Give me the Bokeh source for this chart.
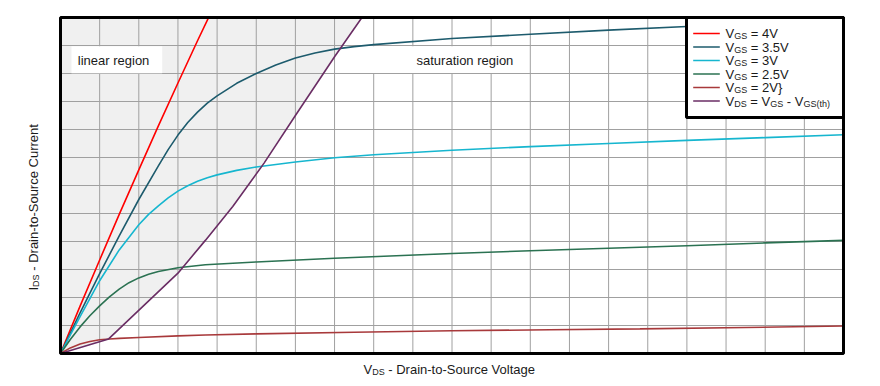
import math
from bokeh.plotting import figure
from bokeh.models import Range1d, Label
from bokeh.embed import file_html
from bokeh.resources import INLINE

# ---------------- data (grid units) ----------------
x_grid_ticks = list(range(0, 21))
y_grid_ticks = list(range(0, 13))

vds_4v = [0, 0.5, 1.0, 1.5, 2.0, 2.5, 3.0, 3.5, 3.8]
ids_4v = [0, 1.69, 3.34, 4.97, 6.56, 8.13, 9.66, 11.17, 12.05]

vds_35v = [0, 0.5, 1, 1.5, 2, 2.5, 2.75, 3, 3.25, 3.5, 3.75, 4, 4.5, 5, 5.5, 6, 6.5, 7, 7.5,
           8, 10, 12, 14, 16, 18, 20]
ids_35v = [0, 1.45, 2.85, 4.2, 5.5, 6.7, 7.28, 7.8, 8.25, 8.62, 8.94, 9.2, 9.65, 10.0, 10.3,
           10.55, 10.73, 10.87, 10.96, 11.03, 11.25, 11.4, 11.55, 11.68, 11.8, 11.92]

vds_3v = [0, 0.5, 1, 1.5, 2, 2.25, 2.5, 2.75, 3, 3.25, 3.5, 3.75, 4, 4.5, 5, 6, 7, 8, 10,
          12, 14, 16, 18, 20]
ids_3v = [0, 1.32, 2.6, 3.7, 4.6, 4.97, 5.27, 5.56, 5.8, 5.99, 6.15, 6.28, 6.38, 6.54, 6.66,
          6.84, 6.99, 7.1, 7.26, 7.39, 7.5, 7.61, 7.71, 7.81]

vds_25v = [0, 0.25, 0.5, 0.75, 1, 1.25, 1.5, 1.75, 2, 2.25, 2.5, 3, 3.7, 5, 7, 10, 12, 14,
           16, 18, 20]
ids_25v = [0, 0.5, 0.95, 1.35, 1.7, 2.02, 2.3, 2.53, 2.7, 2.83, 2.93, 3.06, 3.17, 3.27, 3.4,
           3.57, 3.67, 3.76, 3.85, 3.95, 4.04]

vds_2v = [0, 0.25, 0.5, 0.75, 1.0, 1.25, 1.5, 2, 3, 3.7, 5, 7.5, 10, 12.5, 14.8, 17.5, 20]
ids_2v = [0, 0.2, 0.34, 0.43, 0.49, 0.52, 0.54, 0.57, 0.63, 0.66, 0.7, 0.76, 0.81, 0.85,
          0.88, 0.93, 0.98]

vds_sat = [0, 1.23, 3.0, 3.7, 4.4, 5.2, 6.0, 7.0, 7.7]
ids_sat = [0, 0.52, 2.87, 4.04, 5.25, 6.8, 8.5, 10.6, 12.0]

x_max = 20
y_max = 12

series_colors = ["#ff0000", "#1d5b6d", "#16b6cf", "#2b7252", "#a8393b", "#6a2d64"]
legend_rows = [
    [("V", 0), ("GS", 1), (" = 4V", 0)],
    [("V", 0), ("GS", 1), (" = 3.5V", 0)],
    [("V", 0), ("GS", 1), (" = 3V", 0)],
    [("V", 0), ("GS", 1), (" = 2.5V", 0)],
    [("V", 0), ("GS", 1), (" = 2V}", 0)],
    [("V", 0), ("DS", 1), (" = ", 0), ("V", 0), ("GS", 1), (" - ", 0), ("V", 0), ("GS(th)", 1)],
]
xlabel_parts = [("V", 0), ("DS", 1), (" - Drain-to-Source Voltage", 0)]
ylabel_parts = [("I", 0), ("DS", 1), (" - Drain-to-Source Current", 0)]

# ---------------- layout (pixels) ----------------
W, H = 872, 380
PX_L, PX_R, PY_T, PY_B = 60, 843, 17, 353
TEXT_SHIFT = 4.5  # renderer places the baseline lower than requested


def dx(px):
    return (px - PX_L) / (PX_R - PX_L) * x_max


def dy(py):
    return (PY_B - py) / (PY_B - PY_T) * y_max


FONT = "Liberation Sans"
MAIN = 13
SUB = 9
TXT = "#1a1a1a"
ADV = {'V': 667, 'G': 778, 'S': 667, 'D': 722, 'I': 278, ' ': 278, '=': 584, '.': 278,
       '}': 334, '-': 333, '(': 333, ')': 333, 't': 278, 'h': 556, 'r': 333, 'a': 556,
       'i': 222, 'n': 556, 'o': 556, 'u': 556, 'c': 500, 'e': 556, 'l': 222, 'g': 556,
       'C': 722, 's': 500}
for d in "0123456789":
    ADV[d] = 556


def tw(s, size):
    return sum(ADV.get(c, 556) for c in s) / 1000.0 * size


def add_rich(p, parts, px0, py0, vertical=False, color=TXT):
    """px0/py0: baseline start in page pixels. Vertical text reads bottom-to-top."""
    pos = 0.0
    for txt, sub in parts:
        size = SUB if sub else MAIN
        off = 2.5 if sub else 0.0
        lead = len(txt) - len(txt.lstrip(" "))
        pos += tw(" " * lead, size)
        body = txt.strip(" ")
        if body:
            if vertical:
                lab = Label(x=dx(px0 - TEXT_SHIFT + off), y=dy(py0 - pos), text=body,
                            angle=math.pi / 2, text_font=FONT, text_font_size=f"{size}px",
                            text_color=color, text_align="left", text_baseline="alphabetic")
            else:
                lab = Label(x=dx(px0 + pos), y=dy(py0 - TEXT_SHIFT + off), text=body,
                            text_font=FONT, text_font_size=f"{size}px", text_color=color,
                            text_align="left", text_baseline="alphabetic")
            p.add_layout(lab)
        pos += tw(txt.lstrip(" "), size)


# ---------------- figure (frame = whole canvas) ----------------
p = figure(width=W, height=H, output_backend="svg", toolbar_location=None,
           x_range=Range1d(dx(0), dx(W)), y_range=Range1d(dy(H), dy(0)),
           x_axis_type=None, y_axis_type=None, min_border=0)
p.outline_line_color = None
p.background_fill_color = "white"
p.border_fill_color = "white"
p.xgrid.visible = False
p.ygrid.visible = False

# linear region shading (left of the saturation boundary)
shade_x = list(vds_sat) + [0]
shade_y = list(ids_sat) + [y_max]
p.patch(shade_x, shade_y, fill_color="#f0f0f0", line_color=None)

# grid
p.segment(x0=x_grid_ticks, y0=[0] * len(x_grid_ticks), x1=x_grid_ticks,
          y1=[y_max] * len(x_grid_ticks), line_color="#a0a0a0", line_width=1)
p.segment(x0=[0] * len(y_grid_ticks), y0=y_grid_ticks, x1=[x_max] * len(y_grid_ticks),
          y1=y_grid_ticks, line_color="#a0a0a0", line_width=1)

# white boxes behind the region labels
p.quad(left=[dx(71), dx(350)], right=[dx(161.7), dx(527)],
       top=[dy(45.7), dy(45.7)], bottom=[dy(72.7), dy(72.5)],
       fill_color="white", line_color=None)

curves = [(vds_4v, ids_4v), (vds_35v, ids_35v), (vds_3v, ids_3v),
          (vds_25v, ids_25v), (vds_2v, ids_2v), (vds_sat, ids_sat)]
for (xs, ys), c in zip(curves, series_colors):
    p.line(xs, ys, line_color=c, line_width=1.6)

# mask anything drawn past the top edge, then the plot border
p.quad(left=[dx(0)], right=[dx(W)], bottom=[y_max], top=[dy(0)],
       fill_color="white", line_color=None)
p.quad(left=[0], right=[x_max], bottom=[0], top=[y_max],
       fill_color=None, line_color="black", line_width=3)

p.add_layout(Label(x=dx(77.3), y=dy(64.2 - TEXT_SHIFT), text="linear region", text_font=FONT,
                   text_font_size=f"{MAIN}px", text_color=TXT, text_baseline="alphabetic"))
p.add_layout(Label(x=dx(416), y=dy(64.3 - TEXT_SHIFT), text="saturation region",
                   text_font=FONT, text_font_size=f"{MAIN}px", text_color=TXT,
                   text_baseline="alphabetic"))

# legend (manual, for subscripts)
p.quad(left=[dx(686)], right=[dx(843)], top=[dy(17)], bottom=[dy(117)],
       fill_color="white", line_color="black", line_width=3)
row_py = [33 + i * 13.5 for i in range(len(legend_rows))]
p.segment(x0=[dx(692.7)] * len(row_py), x1=[dx(719.3)] * len(row_py),
          y0=[dy(r) for r in row_py], y1=[dy(r) for r in row_py],
          line_color=series_colors, line_width=1.6)
for parts, r in zip(legend_rows, row_py):
    add_rich(p, parts, 725, r + 4.6)

# axis titles
add_rich(p, xlabel_parts, 363, 373.3)
add_rich(p, ylabel_parts, 37.7, 290, vertical=True)

open("out.html", "w").write(file_html(p, INLINE))
